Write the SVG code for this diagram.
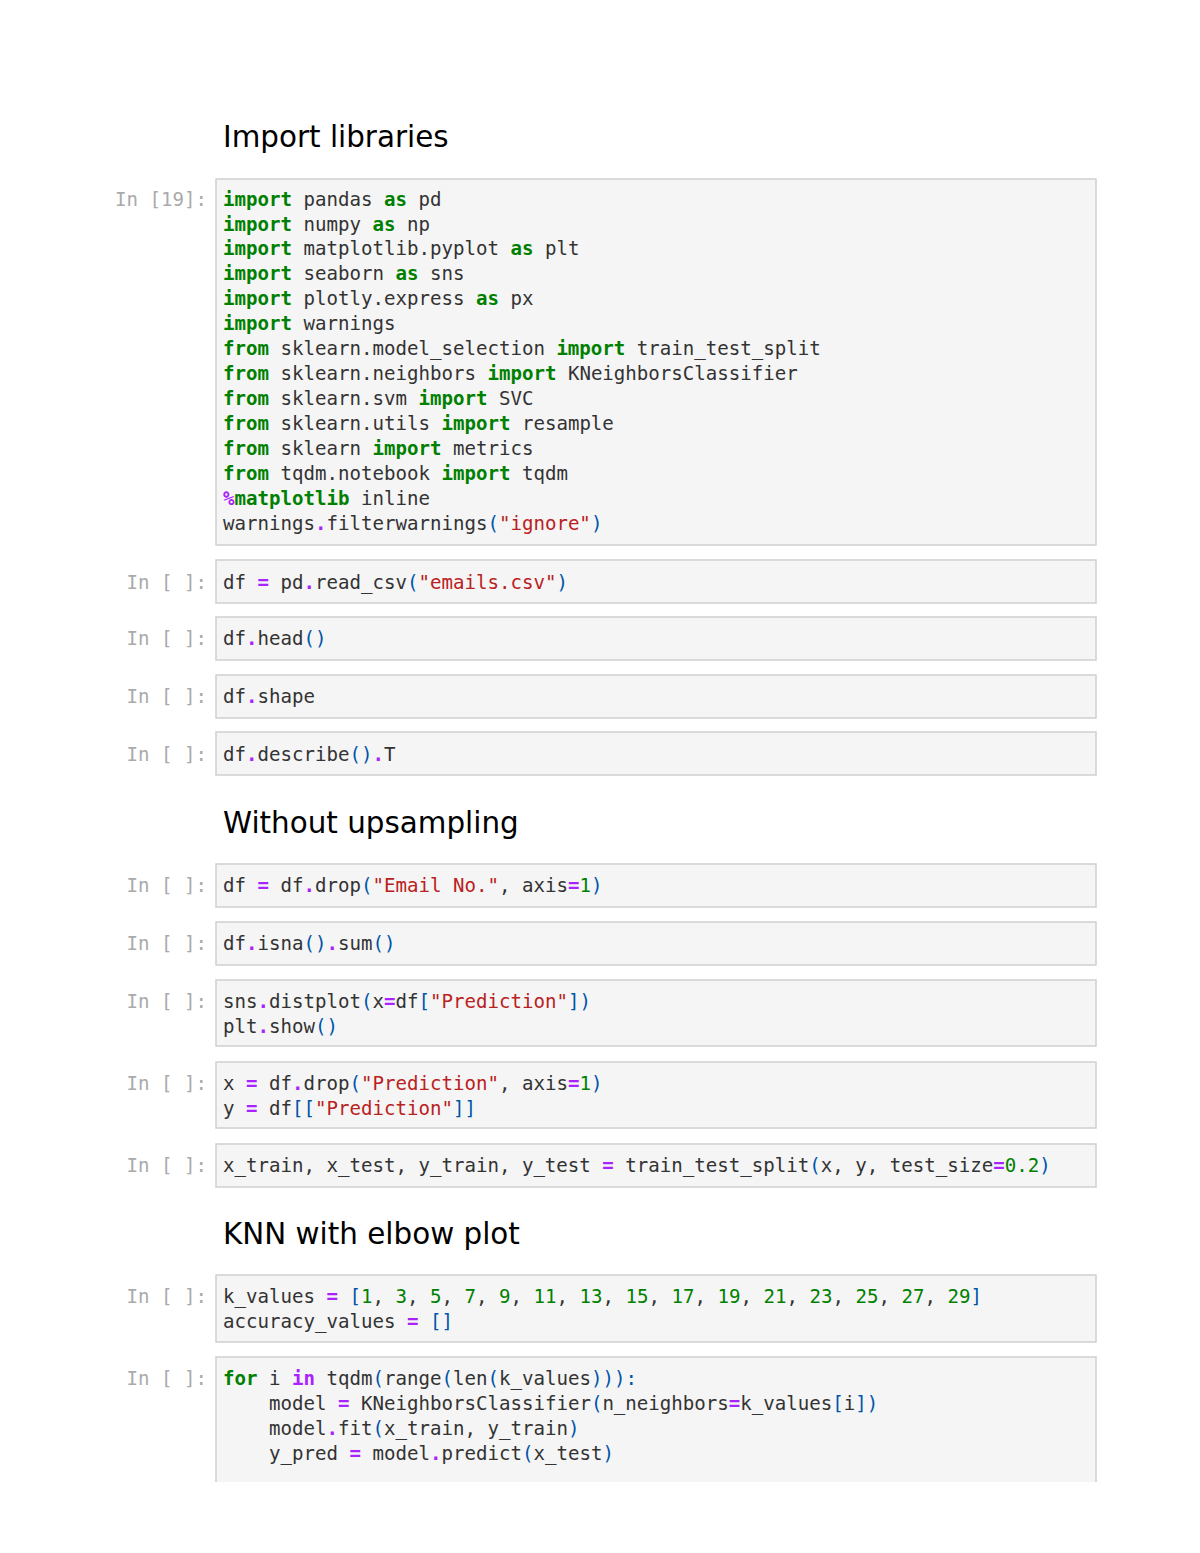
<svg xmlns="http://www.w3.org/2000/svg" width="1200" height="1553" viewBox="0 0 1200 1553">
<style>
.c{fill:#f5f5f5;stroke:#cfcfcf;stroke-width:1.5}
.h{font-family:"DejaVu Sans",sans-serif;font-size:29.4px;fill:#000}
.pr{font-family:"DejaVu Sans Mono",monospace;font-size:19.1px;fill:#aaa;text-anchor:end}
.t{font-family:"DejaVu Sans Mono",monospace;font-size:19.1px;fill:#333}
.k{fill:#008000;font-weight:bold}
.o{fill:#AA22FF;font-weight:bold}
.s{fill:#BA2121}
.n{fill:#008000}
.p{fill:#0055AA}
</style>
<rect width="1200" height="1553" fill="#fff"/>
<g id="h1"><text class="h" x="223" y="147">Import libraries</text></g>
<g id="cell1">
<rect class="c" x="216" y="179" width="880" height="366"/>
<text class="pr" x="207" y="206">In [19]:</text>
<text class="t" xml:space="preserve">
<tspan x="223" y="206"><tspan class="k">import</tspan> pandas <tspan class="k">as</tspan> pd</tspan>
<tspan x="223" y="231"><tspan class="k">import</tspan> numpy <tspan class="k">as</tspan> np</tspan>
<tspan x="223" y="255"><tspan class="k">import</tspan> matplotlib.pyplot <tspan class="k">as</tspan> plt</tspan>
<tspan x="223" y="280"><tspan class="k">import</tspan> seaborn <tspan class="k">as</tspan> sns</tspan>
<tspan x="223" y="305"><tspan class="k">import</tspan> plotly.express <tspan class="k">as</tspan> px</tspan>
<tspan x="223" y="330"><tspan class="k">import</tspan> warnings</tspan>
<tspan x="223" y="355"><tspan class="k">from</tspan> sklearn.model_selection <tspan class="k">import</tspan> train_test_split</tspan>
<tspan x="223" y="380"><tspan class="k">from</tspan> sklearn.neighbors <tspan class="k">import</tspan> KNeighborsClassifier</tspan>
<tspan x="223" y="405"><tspan class="k">from</tspan> sklearn.svm <tspan class="k">import</tspan> SVC</tspan>
<tspan x="223" y="430"><tspan class="k">from</tspan> sklearn.utils <tspan class="k">import</tspan> resample</tspan>
<tspan x="223" y="455"><tspan class="k">from</tspan> sklearn <tspan class="k">import</tspan> metrics</tspan>
<tspan x="223" y="480"><tspan class="k">from</tspan> tqdm.notebook <tspan class="k">import</tspan> tqdm</tspan>
<tspan x="223" y="505"><tspan class="o">%</tspan><tspan class="k">matplotlib</tspan> inline</tspan>
<tspan x="223" y="530">warnings<tspan class="o">.</tspan>filterwarnings<tspan class="p">(</tspan><tspan class="s">"ignore"</tspan><tspan class="p">)</tspan></tspan>
</text>
</g>
<g id="cell2">
<rect class="c" x="216" y="560" width="880" height="43"/>
<text class="pr" x="207" y="589">In [ ]:</text>
<text class="t" x="223" y="589" xml:space="preserve">df <tspan class="o">=</tspan> pd<tspan class="o">.</tspan>read_csv<tspan class="p">(</tspan><tspan class="s">"emails.csv"</tspan><tspan class="p">)</tspan></text>
</g>
<g id="cell3">
<rect class="c" x="216" y="617" width="880" height="43"/>
<text class="pr" x="207" y="645">In [ ]:</text>
<text class="t" x="223" y="645">df<tspan class="o">.</tspan>head<tspan class="p">()</tspan></text>
</g>
<g id="cell4">
<rect class="c" x="216" y="675" width="880" height="43"/>
<text class="pr" x="207" y="703">In [ ]:</text>
<text class="t" x="223" y="703">df<tspan class="o">.</tspan>shape</text>
</g>
<g id="cell5">
<rect class="c" x="216" y="732" width="880" height="43"/>
<text class="pr" x="207" y="761">In [ ]:</text>
<text class="t" x="223" y="761">df<tspan class="o">.</tspan>describe<tspan class="p">()</tspan><tspan class="o">.</tspan>T</text>
</g>
<g id="h2"><text class="h" x="223" y="833">Without upsampling</text></g>
<g id="cell6">
<rect class="c" x="216" y="864" width="880" height="43"/>
<text class="pr" x="207" y="892">In [ ]:</text>
<text class="t" x="223" y="892" xml:space="preserve">df <tspan class="o">=</tspan> df<tspan class="o">.</tspan>drop<tspan class="p">(</tspan><tspan class="s">"Email No."</tspan>, axis<tspan class="o">=</tspan><tspan class="n">1</tspan><tspan class="p">)</tspan></text>
</g>
<g id="cell7">
<rect class="c" x="216" y="922" width="880" height="43"/>
<text class="pr" x="207" y="950">In [ ]:</text>
<text class="t" x="223" y="950">df<tspan class="o">.</tspan>isna<tspan class="p">()</tspan><tspan class="o">.</tspan>sum<tspan class="p">()</tspan></text>
</g>
<g id="cell8">
<rect class="c" x="216" y="980" width="880" height="66"/>
<text class="pr" x="207" y="1008">In [ ]:</text>
<text class="t" x="223" y="1008">sns<tspan class="o">.</tspan>distplot<tspan class="p">(</tspan>x<tspan class="o">=</tspan>df<tspan class="p">[</tspan><tspan class="s">"Prediction"</tspan><tspan class="p">])</tspan></text>
<text class="t" x="223" y="1033">plt<tspan class="o">.</tspan>show<tspan class="p">()</tspan></text>
</g>
<g id="cell9">
<rect class="c" x="216" y="1062" width="880" height="66"/>
<text class="pr" x="207" y="1090">In [ ]:</text>
<text class="t" x="223" y="1090" xml:space="preserve">x <tspan class="o">=</tspan> df<tspan class="o">.</tspan>drop<tspan class="p">(</tspan><tspan class="s">"Prediction"</tspan>, axis<tspan class="o">=</tspan><tspan class="n">1</tspan><tspan class="p">)</tspan></text>
<text class="t" x="223" y="1115" xml:space="preserve">y <tspan class="o">=</tspan> df<tspan class="p">[[</tspan><tspan class="s">"Prediction"</tspan><tspan class="p">]]</tspan></text>
</g>
<g id="cell10">
<rect class="c" x="216" y="1144" width="880" height="43"/>
<text class="pr" x="207" y="1172">In [ ]:</text>
<text class="t" x="223" y="1172" xml:space="preserve">x_train, x_test, y_train, y_test <tspan class="o">=</tspan> train_test_split<tspan class="p">(</tspan>x, y, test_size<tspan class="o">=</tspan><tspan class="n">0.2</tspan><tspan class="p">)</tspan></text>
</g>
<g id="h3"><text class="h" x="223" y="1244">KNN with elbow plot</text></g>
<g id="cell11">
<rect class="c" x="216" y="1275" width="880" height="67"/>
<text class="pr" x="207" y="1303">In [ ]:</text>
<text class="t" x="223" y="1303" xml:space="preserve">k_values <tspan class="o">=</tspan> <tspan class="p">[</tspan><tspan class="n">1</tspan>, <tspan class="n">3</tspan>, <tspan class="n">5</tspan>, <tspan class="n">7</tspan>, <tspan class="n">9</tspan>, <tspan class="n">11</tspan>, <tspan class="n">13</tspan>, <tspan class="n">15</tspan>, <tspan class="n">17</tspan>, <tspan class="n">19</tspan>, <tspan class="n">21</tspan>, <tspan class="n">23</tspan>, <tspan class="n">25</tspan>, <tspan class="n">27</tspan>, <tspan class="n">29</tspan><tspan class="p">]</tspan></text>
<text class="t" x="223" y="1328" xml:space="preserve">accuracy_values <tspan class="o">=</tspan> <tspan class="p">[]</tspan></text>
</g>
<g id="cell12">
<path d="M1096,1482 V1357 H216 V1482" fill="#f5f5f5" stroke="#cfcfcf" stroke-width="1.5"/>
<text class="pr" x="207" y="1385">In [ ]:</text>
<text class="t" xml:space="preserve">
<tspan x="223" y="1385"><tspan class="k">for</tspan> i <tspan class="o">in</tspan> tqdm<tspan class="p">(</tspan>range<tspan class="p">(</tspan>len<tspan class="p">(</tspan>k_values<tspan class="p">))):</tspan></tspan>
<tspan x="223" y="1410">    model <tspan class="o">=</tspan> KNeighborsClassifier<tspan class="p">(</tspan>n_neighbors<tspan class="o">=</tspan>k_values<tspan class="p">[</tspan>i<tspan class="p">])</tspan></tspan>
<tspan x="223" y="1435">    model<tspan class="o">.</tspan>fit<tspan class="p">(</tspan>x_train, y_train<tspan class="p">)</tspan></tspan>
<tspan x="223" y="1460">    y_pred <tspan class="o">=</tspan> model<tspan class="o">.</tspan>predict<tspan class="p">(</tspan>x_test<tspan class="p">)</tspan></tspan>
</text>
</g>
</svg>
